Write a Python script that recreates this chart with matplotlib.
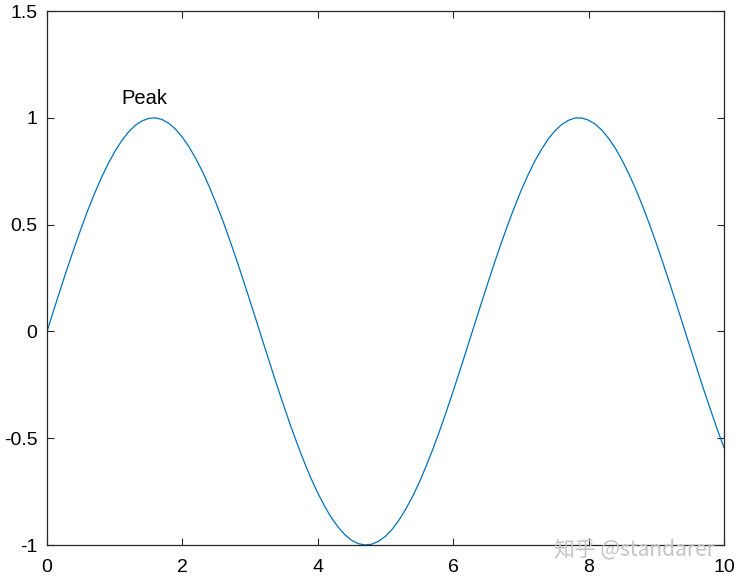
import matplotlib.pyplot as plt
import numpy as np

# valores (x de 0 a 10, paso 0.1)
x_vals = [i / 10 for i in range(101)]
y_vals = [0.000, 0.100, 0.199, 0.296, 0.389, 0.479, 0.565, 0.644, 0.717, 0.783,
          0.841, 0.891, 0.932, 0.964, 0.985, 0.997, 1.000, 0.992, 0.974, 0.946,
          0.909, 0.863, 0.808, 0.746, 0.675, 0.598, 0.516, 0.427, 0.335, 0.239,
          0.141, 0.042, -0.058, -0.158, -0.256, -0.351, -0.443, -0.530, -0.612, -0.688,
          -0.757, -0.818, -0.872, -0.916, -0.952, -0.978, -0.994, -1.000, -0.996, -0.982,
          -0.959, -0.926, -0.883, -0.832, -0.773, -0.706, -0.631, -0.551, -0.465, -0.374,
          -0.279, -0.182, -0.083, 0.017, 0.117, 0.215, 0.312, 0.405, 0.494, 0.578,
          0.657, 0.729, 0.794, 0.850, 0.899, 0.938, 0.968, 0.988, 0.999, 0.999,
          0.989, 0.970, 0.941, 0.902, 0.855, 0.798, 0.734, 0.663, 0.585, 0.501,
          0.412, 0.319, 0.223, 0.125, 0.025, -0.075, -0.174, -0.272, -0.366, -0.458,
          -0.544]
xticks = [0, 2, 4, 6, 8, 10]
yticks = [-1, -0.5, 0, 0.5, 1, 1.5]
ytick_labels = ['-1', '-0.5', '0', '0.5', '1', '1.5']

plt.rcParams['font.family'] = ['Liberation Sans', 'DejaVu Sans']

fig = plt.figure(figsize=(7.39, 5.79), dpi=100)
ax = fig.add_axes([47 / 739, 34 / 579, 677 / 739, 534 / 579])

ax.plot(x_vals, y_vals, color='#0072BD', linewidth=0.9)
ax.text(1.1, 1.09, 'Peak', fontsize=14.5, ha='left', va='center')

ax.set_xlim(0, 10)
ax.set_ylim(-1, 1.5)
ax.set_xticks(xticks)
ax.set_yticks(yticks)
ax.set_yticklabels(ytick_labels)
ax.tick_params(direction='in', length=5, width=0.8, top=True, right=True,
               labelsize=14, color='#262626')
ax.tick_params(axis='x', pad=10)
ax.tick_params(axis='y', pad=7)
for s in ax.spines.values():
    s.set_linewidth(0.9)
    s.set_color('#262626')

# marca de agua
fig.text(634 / 739, 1 - 549 / 579, '知乎 @standarer', fontsize=15,
         color='#c4c4c4', ha='center', va='center',
         family=['Noto Sans CJK SC', 'DejaVu Sans'])

fig.savefig('out.png', dpi=100)
